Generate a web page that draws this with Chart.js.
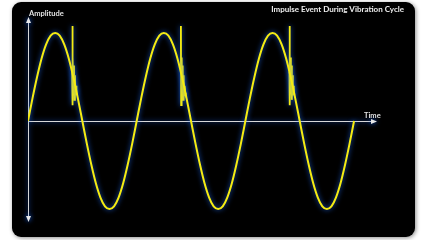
<!DOCTYPE html>
<html>
<head>
<meta charset="utf-8">
<script src="https://cdn.jsdelivr.net/npm/chart.js@4.4.1/dist/chart.umd.min.js"></script>
<style>
    html, body { margin: 0; padding: 0; background: #fff; }
    #wrap { width: 426px; height: 240px; position: relative; }
</style>
</head>
<body>
<div id="wrap"><canvas id="chart"></canvas></div>
<script>
// Phase in degrees, sampled every 15 degrees over three cycles
const waveStep = 15;
const waveValues = [
    0, 0.26, 0.5, 0.71, 0.87, 0.97, 1, 0.97, 0.87, 0.71, 0.5, 0.26,
    0, -0.26, -0.5, -0.71, -0.87, -0.97, -1, -0.97, -0.87, -0.71, -0.5, -0.26,
    0, 0.26, 0.5, 0.71, 0.87, 0.97, 1, 0.97, 0.87, 0.71, 0.5, 0.26,
    0, -0.26, -0.5, -0.71, -0.87, -0.97, -1, -0.97, -0.87, -0.71, -0.5, -0.26,
    0, 0.26, 0.5, 0.71, 0.87, 0.97, 1, 0.97, 0.87, 0.71, 0.5, 0.26,
    0, -0.26, -0.5, -0.71, -0.87, -0.97, -1, -0.97, -0.87, -0.71, -0.5, -0.26,
    0
];

// Impulse and ringing, phase offsets inside a cycle (degrees) and amplitudes
const impulsePhase = [146, 146.5, 147.3, 149, 150.7, 152.3, 154, 155.6, 157.3, 159, 160.6, 162.4];
const impulseValues = [0.56, 1.08, 0.18, 0.72, 0.30, 0.63, 0.24, 0.52, 0.29, 0.40, 0.32, 0.30];
const cycleStarts = [0, 360, 720];
const gridMarks = [360, 720, 1080];

const titleText = 'Impulse Event During Vibration Cycle';
const yLabel = 'Amplitude';
const xLabel = 'Time';

const wavePoints = waveValues.map((v, i) => ({ x: i * waveStep, y: v }));
const impulsePoints = [];
cycleStarts.forEach(start => {
    impulsePhase.forEach((p, i) => impulsePoints.push({ x: start + p, y: impulseValues[i] }));
    impulsePoints.push({ x: start + 170, y: null });
});

const lineColor = '#f5ec12';
const fontFamily = "'Lato', 'DejaVu Sans', sans-serif";

// Black panel behind everything
const panelPlugin = {
    id: 'panel',
    beforeDraw(chart) {
        const ctx = chart.ctx;
        ctx.save();
        ctx.shadowColor = 'rgba(0,0,0,0.45)';
        ctx.shadowBlur = 4;
        ctx.shadowOffsetX = 1;
        ctx.shadowOffsetY = 1;
        ctx.fillStyle = '#000';
        ctx.beginPath();
        ctx.roundRect(12, 2, 403, 235, 9);
        ctx.fill();
        ctx.restore();
    }
};

// Glow on the waveform
const glowPlugin = {
    id: 'glow',
    beforeDatasetsDraw(chart) {
        const ctx = chart.ctx;
        ctx.save();
        ctx.shadowColor = 'rgba(30,110,255,0.85)';
        ctx.shadowBlur = 5;
    },
    afterDatasetsDraw(chart) {
        chart.ctx.restore();
    }
};

function arrow(ctx, x, y, dir) {
    ctx.beginPath();
    if (dir === 'up') {
        ctx.moveTo(x, y); ctx.lineTo(x - 2.5, y + 6); ctx.lineTo(x + 2.5, y + 6);
    } else if (dir === 'down') {
        ctx.moveTo(x, y); ctx.lineTo(x - 2.5, y - 6); ctx.lineTo(x + 2.5, y - 6);
    } else {
        ctx.moveTo(x, y); ctx.lineTo(x - 6, y - 2.5); ctx.lineTo(x - 6, y + 2.5);
    }
    ctx.closePath();
    ctx.fill();
}

// Axis lines with arrows and the labels
const axesPlugin = {
    id: 'axes',
    beforeDatasetsDraw(chart) {
        const ctx = chart.ctx;
        const xs = chart.scales.x;
        const ys = chart.scales.y;
        const area = chart.chartArea;
        const x0 = xs.getPixelForValue(0);
        const y0 = ys.getPixelForValue(0);
        ctx.save();
        ctx.strokeStyle = '#d8d8d8';
        ctx.fillStyle = '#e8e8e8';
        ctx.lineWidth = 1;
        ctx.beginPath();
        ctx.moveTo(x0 + 0.5, area.top + 3);
        ctx.lineTo(x0 + 0.5, area.bottom - 4);
        ctx.moveTo(x0, y0 + 0.5);
        ctx.lineTo(area.right - 3, y0 + 0.5);
        ctx.stroke();
        arrow(ctx, x0 + 0.5, area.top - 1, 'up');
        arrow(ctx, x0 + 0.5, area.bottom - 2, 'down');
        arrow(ctx, area.right, y0 + 0.5, 'right');
        ctx.restore();
    },
    afterDraw(chart) {
        const ctx = chart.ctx;
        const xs = chart.scales.x;
        const ys = chart.scales.y;
        const area = chart.chartArea;
        ctx.save();
        ctx.fillStyle = '#eeeeee';
        ctx.textBaseline = 'middle';
        ctx.font = 'bold 8px ' + fontFamily;
        ctx.textAlign = 'right';
        ctx.fillText(titleText, 404, 9.5);
        ctx.font = 'bold 7.5px ' + fontFamily;
        ctx.textAlign = 'left';
        ctx.fillStyle = '#e0e0e0';
        ctx.fillText(yLabel, xs.getPixelForValue(0) + 1, area.top - 4);
        ctx.fillText(xLabel, area.right - 13, ys.getPixelForValue(0) - 5);
        ctx.restore();
    }
};

new Chart(document.getElementById('chart'), {
    type: 'line',
    data: {
        datasets: [
            {
                data: wavePoints,
                borderColor: lineColor,
                borderWidth: 2,
                pointRadius: 0,
                cubicInterpolationMode: 'monotone',
                fill: false
            },
            {
                data: impulsePoints,
                borderColor: lineColor,
                borderWidth: 1.8,
                pointRadius: 0,
                tension: 0,
                spanGaps: false,
                fill: false
            }
        ]
    },
    options: {
        responsive: true,
        maintainAspectRatio: false,
        animation: false,
        events: [],
        layout: { padding: { left: 28, right: 49, top: 18, bottom: 16 } },
        plugins: {
            legend: { display: false },
            tooltip: { enabled: false },
            title: { display: false }
        },
        scales: {
            x: {
                type: 'linear',
                min: 0,
                max: 1156,
                ticks: { display: false, stepSize: 360 },
                border: { display: false },
                grid: {
                    drawTicks: false,
                    lineWidth: 1,
                    color: ctx => gridMarks.includes(ctx.tick && ctx.tick.value) ? 'rgba(255,255,255,0.28)' : 'rgba(0,0,0,0)'
                }
            },
            y: {
                display: false,
                min: -1.17,
                max: 1.17
            }
        }
    },
    plugins: [panelPlugin, glowPlugin, axesPlugin]
});
</script>
</body>
</html>
